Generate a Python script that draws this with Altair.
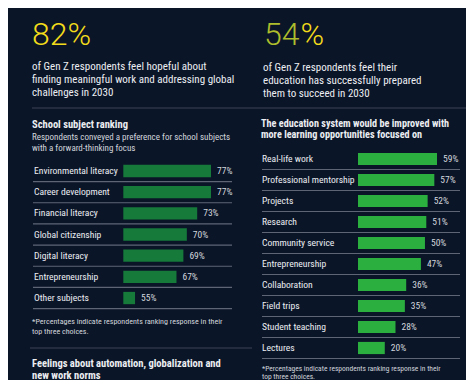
import altair as alt
import pandas as pd

# ---------------- data ----------------
left_subjects = ["Environmental literacy", "Career development", "Financial literacy",
                 "Global citizenship", "Digital literacy", "Entrepreneurship", "Other subjects"]
left_values = [77, 77, 73, 70, 69, 67, 55]

right_topics = ["Real-life work", "Professional mentorship", "Projects", "Research",
                "Community service", "Entrepreneurship", "Collaboration", "Field trips",
                "Student teaching", "Lectures"]
right_values = [59, 57, 52, 51, 50, 47, 36, 35, 28, 20]

headline_left = "82%"
headline_right_num = "54"
headline_right_pct = "%"
para_left = ["of Gen Z respondents feel hopeful about",
             "finding meaningful work and addressing global",
             "challenges in 2030"]
para_right = ["of Gen Z respondents feel their",
              "education has successfully prepared",
              "them to succeed in 2030"]
left_title = "School subject ranking"
left_sub = ["Respondents conveyed a preference for school subjects",
            "with a forward-thinking focus"]
right_title = ["The education system would be improved with",
               "more learning opportunities focused on"]
footnote = ["*Percentages indicate respondents ranking response in their",
            "top three choices."]
bottom_title = ["Feelings about automation, globalization and",
                "new work norms"]

# ---------------- style ----------------
BG = "#0b1528"
FONT = "Liberation Sans Narrow, Roboto Condensed, Arial Narrow, Roboto, sans-serif"
NUMFONT = "Roboto"
WHITE = "#eceef2"
GREY = "#d2d6dc"
LINE = "#5e6676"
YELLOW = "#f3dc1a"
OLIVE = "#aebd2c"
GREEN_L = "#157a3a"
GREEN_R = "#2bb040"

W, H = 458, 372
O = 8  # page margin offset

dummy = pd.DataFrame({"k": [0]})
layers = []


def text(s, x, y, size, color=WHITE, weight="normal", font=FONT, baseline="middle"):
    layers.append(
        alt.Chart(dummy).mark_text(text=s, align="left", baseline=baseline, fontSize=size,
                                   fontWeight=weight, font=font, color=color)
        .encode(x=alt.value(x - O), y=alt.value(y - O))
    )


def hrule(y, x1, x2, color=LINE, width=1):
    layers.append(
        alt.Chart(dummy).mark_rule(color=color, strokeWidth=width)
        .encode(x=alt.value(x1 - O), x2=alt.value(x2 - O), y=alt.value(y - O))
    )


# headlines
text(headline_left, 32, 45, 32, YELLOW, 300, NUMFONT, "alphabetic")
text(headline_right_num, 264, 45, 32, OLIVE, 300, NUMFONT, "alphabetic")
text(headline_right_pct, 300.5, 45, 32, YELLOW, 300, NUMFONT, "alphabetic")

for i, s in enumerate(para_left):
    text(s, 32, 67 + 13 * i, 11, WHITE)
for i, s in enumerate(para_right):
    text(s, 263, 68 + 13 * i, 11, WHITE)

hrule(108, 32, 474, "#3c4454")

text(left_title, 32, 125, 10.5, WHITE, "bold")
for i, s in enumerate(left_sub):
    text(s, 32, 136.5 + 11 * i, 9, GREY)

for i, s in enumerate(right_title):
    text(s, 261, 123.5 + 11.5 * i, 10.2, WHITE, "bold")

for i, s in enumerate(footnote):
    text(s, 32, 322 + 10 * i, 8, GREY)
    text(s, 262, 369 + 8 * i, 7.5, GREY)

hrule(348, 30, 252, "#3c4454")
for i, s in enumerate(bottom_title):
    text(s, 32, 364 + 11.5 * i, 10.5, WHITE, "bold")


# ---------------- bar blocks ----------------
def block(cats, vals, xdom, xrange, yrange, label_x, rule_x1, rule_x2, color, base):
    df = pd.DataFrame({"cat": cats, "val": vals,
                       "lab": [f"{v}%" for v in vals]})
    n = len(cats)
    step = (yrange[1] - yrange[0]) / n
    ysc = alt.Scale(domain=cats, range=[yrange[0] - O, yrange[1] - O],
                    paddingInner=0.42, paddingOuter=0.21)
    # point scales: row centres and row separator lines (half a row lower)
    ysc_mid = alt.Scale(type="point", domain=cats, padding=0,
                        range=[yrange[0] + step / 2 - O, yrange[1] - step / 2 - O])
    ysc_sep = alt.Scale(type="point", domain=cats, padding=0,
                        range=[yrange[0] + step - O, yrange[1] - O])
    xsc = alt.Scale(domain=xdom, range=[xrange[0] - O, xrange[1] - O], zero=False)
    y = alt.Y("cat:N", scale=ysc, axis=None, sort=cats)
    y_mid = alt.Y("cat:N", scale=ysc_mid, axis=None, sort=cats)
    y_sep = alt.Y("cat:N", scale=ysc_sep, axis=None, sort=cats)
    base_chart = alt.Chart(df)
    bars = base_chart.mark_bar(color=color, cornerRadius=0).encode(
        x=alt.X("val:Q", scale=xsc, axis=None),
        x2=alt.datum(base),
        y=y,
    )
    vals_t = base_chart.mark_text(align="left", baseline="middle", dx=6, fontSize=9.5,
                                  font=FONT, color=GREY).encode(
        x=alt.X("val:Q", scale=xsc, axis=None), y=y_mid, text="lab:N")
    labs = base_chart.mark_text(align="left", baseline="middle", fontSize=9.6,
                                font=FONT, color=WHITE).encode(
        x=alt.value(label_x - O), y=y_mid, text="cat:N")
    rules = base_chart.mark_rule(color=LINE, strokeWidth=1.2).encode(
        x=alt.value(rule_x1 - O), x2=alt.value(rule_x2 - O), y=y_sep)
    return [rules, bars, vals_t, labs]


layers += block(left_subjects, left_values, [51.6, 77], [123.3, 211],
                [160.4, 308.6], 34, 33, 232, GREEN_L, 51.6)
layers += block(right_topics, right_values, [0, 59], [358, 437],
                [148.5, 358.5], 262, 262, 460, GREEN_R, 0)

chart = alt.layer(*layers).resolve_scale(x="independent", y="independent").properties(
    width=W, height=H, background=BG, padding=0,
    autosize=alt.AutoSizeParams(type="none")
).configure_view(strokeWidth=0)

chart.save("out.html", embed_options={"renderer": "svg", "actions": False})
